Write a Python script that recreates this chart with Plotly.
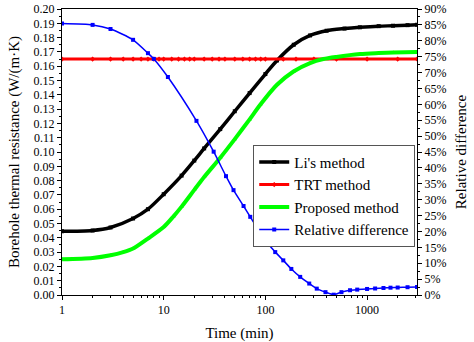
import plotly.graph_objects as go

# Borehole thermal resistance (W/(m·K)) versus time (min)
LI_TIME = [1, 2, 3, 5, 7, 10, 15, 20, 25, 36, 50, 70, 100, 130, 190, 275, 400,
           600, 850, 1300, 1800, 2500, 3100]
LI_RB = [0.0445, 0.0451, 0.0472, 0.0535, 0.0600, 0.0705, 0.0835, 0.0940, 0.1025,
         0.1160, 0.1285, 0.1412, 0.1545, 0.1640, 0.1750, 0.1815, 0.1848,
         0.1863, 0.1872, 0.1880, 0.1883, 0.1887, 0.1889]

TRT_TIME = [1, 2, 3, 4, 5, 6, 7, 8, 9, 10, 12, 14, 16, 18, 20, 25, 30, 35, 40,
            50, 60, 70, 80, 90, 100, 150, 200, 300, 500, 1000, 2000, 3100]
TRT_RB = 0.165

PROP_TIME = [1, 2, 3, 4, 5, 7, 10, 12.5, 15, 20, 25, 36, 50, 70, 89, 130, 189,
             275, 372, 500, 855, 1300, 1830, 3100]
PROP_RB = [0.0250, 0.0259, 0.0278, 0.0300, 0.0325, 0.0395, 0.0475, 0.0550,
           0.0618, 0.0735, 0.0825, 0.0960, 0.1090, 0.1228, 0.1330, 0.1470,
           0.1563, 0.1622, 0.1650, 0.1665, 0.1685, 0.1692, 0.1696, 0.1700]

DIFF_TIME = [1, 2, 3, 5, 7, 8, 11, 21, 31, 41, 48.6, 61, 71, 85, 103.5, 125,
             150, 180, 220, 270, 320, 390, 470, 560, 680, 800, 1000, 1200,
             1450, 1700, 2000, 2500, 3100]
DIFF_PCT = [85.4, 85.0, 83.7, 80.3, 76.1, 74.3, 68.6, 54.8, 45.1, 37.4, 33.0,
            28.0, 24.6, 20.6, 16.7, 13.5, 10.9, 8.2, 5.7, 3.6, 2.0, 0.9, 0.1,
            0.9, 1.5, 1.7, 1.9, 2.05, 2.2, 2.3, 2.35, 2.45, 2.5]

X_TICKS = [1, 10, 100, 1000]
X_MINOR = [2, 3, 4, 5, 6, 7, 8, 9, 20, 30, 40, 50, 60, 70, 80, 90,
           200, 300, 400, 500, 600, 700, 800, 900, 2000, 3000]

FONT = "Liberation Serif"

fig = go.Figure()
fig.add_trace(go.Scatter(
    x=LI_TIME, y=LI_RB, name="Li's method", mode="lines+markers",
    line=dict(color="#000000", width=3.5, shape="spline", smoothing=0.8),
    marker=dict(symbol="square", size=4, color="#000000")))
fig.add_trace(go.Scatter(
    x=TRT_TIME, y=[TRT_RB] * len(TRT_TIME), name="TRT method",
    mode="lines+markers",
    line=dict(color="#ff0000", width=3),
    marker=dict(symbol="diamond", size=4, color="#ff0000")))
fig.add_trace(go.Scatter(
    x=PROP_TIME, y=PROP_RB, name="Proposed method", mode="lines+markers",
    line=dict(color="#00ff00", width=4, shape="spline", smoothing=0.8),
    marker=dict(symbol="triangle-up", size=4, color="#00ff00")))
fig.add_trace(go.Scatter(
    x=DIFF_TIME, y=DIFF_PCT, name="Relative difference", mode="lines+markers",
    yaxis="y2",
    line=dict(color="#0000ff", width=1.5, shape="spline", smoothing=0.6),
    marker=dict(symbol="square", size=4, color="#0000ff")))

axis_common = dict(
    showline=True, linecolor="#000000", linewidth=1,
    ticks="outside", ticklen=4, tickcolor="#000000",
    showgrid=False, zeroline=False, automargin=False,
    tickfont=dict(family=FONT, size=12, color="#000000"),
)

fig.update_layout(
    width=474, height=342,
    margin=dict(l=62, r=57, t=9, b=47),
    plot_bgcolor="#ffffff", paper_bgcolor="#ffffff",
    font=dict(family=FONT, color="#000000"),
    xaxis=dict(
        type="log", range=[0, 3.491],
        tickvals=X_TICKS, ticktext=[str(v) for v in X_TICKS],
        mirror=True,
        minor=dict(tickvals=X_MINOR, ticks="outside", ticklen=2,
                   tickcolor="#000000"),
        title=dict(text="Time (min)", font=dict(family=FONT, size=15),
                   standoff=12),
        **axis_common),
    yaxis=dict(
        range=[0, 0.2], dtick=0.01, tickformat=".2f",
        minor=dict(dtick=0.005, ticks="outside", ticklen=2,
                   tickcolor="#000000"),
        title=dict(text="Borehole thermal resistance (W/(m·K)",
                   font=dict(family=FONT, size=15), standoff=10),
        **axis_common),
    yaxis2=dict(
        overlaying="y", side="right", range=[0, 90], dtick=5,
        ticksuffix="%",
        minor=dict(dtick=2.5, ticks="outside", ticklen=2,
                   tickcolor="#000000"),
        title=dict(text="Relative difference",
                   font=dict(family=FONT, size=15), standoff=10),
        **axis_common),
    legend=dict(
        x=0.995, y=0.525, xanchor="right", yanchor="top",
        bgcolor="#ffffff", bordercolor="#555555", borderwidth=1,
        font=dict(family=FONT, size=15, color="#000000"),
        tracegroupgap=0, itemwidth=30),
)

fig.write_html("out.html")
